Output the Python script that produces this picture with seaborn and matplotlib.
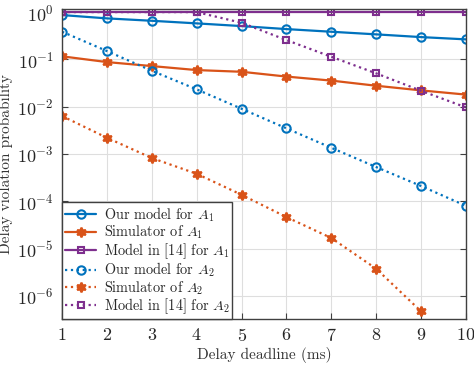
import numpy as np
import pandas as pd
import matplotlib
matplotlib.use("Agg")
import matplotlib.pyplot as plt
import seaborn as sns
from matplotlib.ticker import LogLocator, LogFormatterSciNotation, NullLocator

deadline = [1, 2, 3, 4, 5, 6, 7, 8, 9, 10]
our_a1 = [0.865, 0.736, 0.655, 0.577, 0.506, 0.437, 0.384, 0.338, 0.296, 0.265]
sim_a1 = [0.116, 0.0877, 0.0722, 0.0594, 0.0547, 0.0433, 0.0356, 0.0277, 0.0221, 0.018]
ref_a1 = [1.0, 1.0, 1.0, 1.0, 1.0, 1.0, 1.0, 1.0, 1.0, 1.0]
our_a2 = [0.384, 0.150, 0.0574, 0.0232, 0.00903, 0.00348, 0.00135, 5.29e-4, 2.1e-4, 8.0e-5]
sim_a2_x = [1, 2, 3, 4, 5, 6, 7, 8, 9]
sim_a2 = [6.33e-3, 2.2e-3, 8.2e-4, 3.81e-4, 1.37e-4, 4.63e-5, 1.67e-5, 3.74e-6, 4.7e-7]
ref_a2 = [1.0, 1.0, 1.0, 1.0, 0.594, 0.256, 0.1135, 0.0506, 0.0217, 0.00966]

labels = ["Our model for $A_1$", "Simulator of $A_1$", "Model in [14] for $A_1$",
          "Our model for $A_2$", "Simulator of $A_2$", "Model in [14] for $A_2$"]

sns.set_style("ticks")
plt.rcParams["font.family"] = ["cmr10", "DejaVu Serif"]
plt.rcParams["mathtext.fontset"] = "cm"
plt.rcParams["axes.formatter.use_mathtext"] = True

blue = "#0072BD"
orange = "#D95319"
purple = "#7E2F8E"
hexstar = (6, 1, 0)

fig = plt.figure(figsize=(4.74, 3.69), dpi=100)
ax = fig.add_axes([0.131, 0.1355, 0.852, 0.84])

series = [
    (deadline, our_a1, labels[0], blue, "o", "-", "none", 6),
    (deadline, sim_a1, labels[1], orange, hexstar, "-", orange, 7),
    (deadline, ref_a1, labels[2], purple, "s", "-", "none", 5),
    (deadline, our_a2, labels[3], blue, "o", ":", "none", 6),
    (sim_a2_x, sim_a2, labels[4], orange, hexstar, ":", orange, 7),
    (deadline, ref_a2, labels[5], purple, "s", ":", "none", 5),
]
for xs, ys, lab, col, mk, ls, mfc, ms in series:
    df = pd.DataFrame({"x": xs, "y": ys})
    sns.lineplot(data=df, x="x", y="y", ax=ax, color=col, marker=mk, linestyle=ls,
                 markerfacecolor=mfc, markeredgecolor=col, markersize=ms,
                 markeredgewidth=1.5, linewidth=1.6, label=lab)

ax.set_yscale("log")
ax.set_xlim(1, 10)
ax.set_ylim(3.24e-7, 1.16)
ax.set_xticks(deadline)
ax.yaxis.set_major_locator(LogLocator(base=10, numticks=20))
ax.yaxis.set_minor_locator(NullLocator())
ax.yaxis.set_major_formatter(LogFormatterSciNotation())
ax.grid(True, color="#dedede", linewidth=0.8)
ax.set_axisbelow(True)
ax.tick_params(direction="in", top=True, right=True, labelsize=13, length=4,
               color="#404040", pad=6)
for s in ax.spines.values():
    s.set_color("#404040")
    s.set_linewidth(1.0)

ax.set_xlabel("Delay deadline (ms)", fontsize=11, color="#333333", labelpad=2)
ax.set_ylabel("Delay violation probability", fontsize=11, color="#333333", labelpad=3)

leg = ax.legend(loc="lower left", borderaxespad=0, fontsize=10.3, frameon=True,
                fancybox=False, edgecolor="#404040", framealpha=1,
                handlelength=2.2, handletextpad=0.5, labelspacing=0.0,
                borderpad=0.2)
leg.get_frame().set_linewidth(1.0)

fig.savefig("out.png", dpi=100)
